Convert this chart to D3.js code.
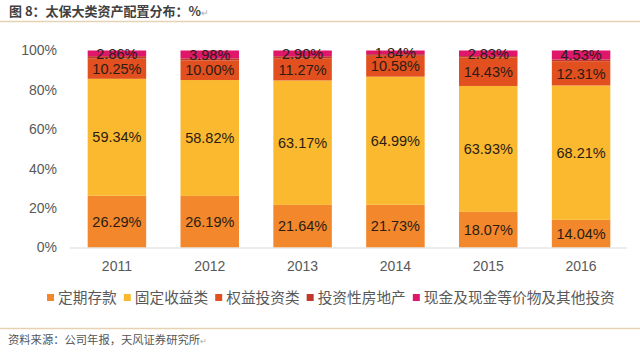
<!DOCTYPE html>
<html><head><meta charset="utf-8">
<script src="https://cdn.jsdelivr.net/npm/d3@7"></script>
<style>body{margin:0;background:#fff}svg{display:block}</style>
</head><body>
<svg id="c" width="640" height="355"></svg>
<script>
const years = ["2011","2012","2013","2014","2015","2016"];
const seriesNames = ["定期存款","固定收益类","权益投资类","投资性房地产","现金及现金等价物及其他投资"];
const deposits = [26.29,26.19,21.64,21.73,18.07,14.04];
const fixedIncome = [59.34,58.82,63.17,64.99,63.93,68.21];
const equity = [10.25,10.00,11.27,10.58,14.43,12.31];
const property = [1.26,1.01,1.02,0.86,0.74,0.91];
const cash = [2.86,3.98,2.90,1.84,2.83,4.53];
const yTicks = [0,20,40,60,80,100];
const showLabel = [true,true,true,false,true];
const colors = ["#F3872B","#FBB92F","#E3501F","#C0392B","#E0166A"];

const svg = d3.select("#c");
const seriesVals = [deposits, fixedIncome, equity, property, cash];
const rows = years.map((y,i)=>{const r={year:y}; seriesNames.forEach((s,k)=>r[s]=seriesVals[k][i]); return r;});
const stack = d3.stack().keys(seriesNames)(rows);

const x = d3.scaleBand().domain(years).range([70.5,627.5]).paddingInner(0.37).paddingOuter(0.185);
const y = d3.scaleLinear().domain([0,100]).range([247.5,50.5]);

// title
const title = svg.append("text").attr("x",9).attr("y",15.5)
  .attr("font-family","'Noto Sans CJK SC', sans-serif").attr("font-size",13).attr("font-weight","bold").attr("fill","#404040");
title.append("tspan").text("图 8：太保大类资产配置分布：%");
title.append("tspan").attr("font-size",9).attr("font-weight","normal").attr("fill","#aaa").text("↵");
svg.append("line").attr("x1",0).attr("x2",640).attr("y1",21.5).attr("y2",21.5).attr("stroke","#e6d2b2").attr("stroke-width",1.5);

// y axis labels
svg.append("g").selectAll("text").data(yTicks).join("text")
  .attr("x",57).attr("y",d=>y(d)).attr("dy","0.35em").attr("text-anchor","end")
  .attr("font-family","'Liberation Sans', Arial, sans-serif").attr("font-size",14).attr("fill","#595959")
  .text(d=>d+"%");

// bars
const g = svg.append("g");
stack.forEach((layer,k)=>{
  g.append("g").attr("fill",colors[k]).selectAll("rect").data(layer).join("rect")
    .attr("x",d=>x(d.data.year)).attr("width",x.bandwidth())
    .attr("y",d=>y(d[1])).attr("height",d=>y(d[0])-y(d[1]));
});
stack.forEach((layer,k)=>{
  if(!showLabel[k]) return;
  g.append("g").selectAll("text").data(layer).join("text")
    .attr("x",d=>x(d.data.year)+x.bandwidth()/2).attr("y",d=>(y(d[0])+y(d[1]))/2).attr("dy","0.36em")
    .attr("text-anchor","middle").attr("font-family","'Liberation Sans', Arial, sans-serif").attr("font-size",14.5)
    .attr("fill","#2a1c14").text(d=>(d[1]-d[0]).toFixed(2)+"%");
});

// x axis
svg.append("line").attr("x1",70).attr("x2",627).attr("y1",248).attr("y2",248).attr("stroke","#d9d9d9").attr("stroke-width",1);
svg.append("g").selectAll("text").data(years).join("text")
  .attr("x",d=>x(d)+x.bandwidth()/2).attr("y",266).attr("dy","0.35em").attr("text-anchor","middle")
  .attr("font-family","'Liberation Sans', Arial, sans-serif").attr("font-size",14).attr("fill","#595959").text(d=>d);

// legend
const lg = svg.append("g");
let lx = 47;
seriesNames.forEach((s,k)=>{
  lg.append("rect").attr("x",lx).attr("y",294).attr("width",7).attr("height",7).attr("fill",colors[k]);
  const t = lg.append("text").attr("x",lx+11).attr("y",297.5).attr("dy","0.35em")
    .attr("font-family","'Noto Sans CJK SC', sans-serif").attr("font-size",14.7).attr("fill","#595959").text(s);
  lx += 11 + t.node().getComputedTextLength() + 7;
});

// footnote
svg.append("line").attr("x1",0).attr("x2",640).attr("y1",328.5).attr("y2",328.5).attr("stroke","#e6d2b2").attr("stroke-width",1.5);
const fn = svg.append("text").attr("x",8).attr("y",344)
  .attr("font-family","'Noto Sans CJK SC', sans-serif").attr("font-size",11.3).attr("fill","#555");
fn.append("tspan").text("资料来源：公司年报，天风证券研究所");
fn.append("tspan").attr("font-size",8).attr("fill","#aaa").text("↵");
</script>
</body></html>
